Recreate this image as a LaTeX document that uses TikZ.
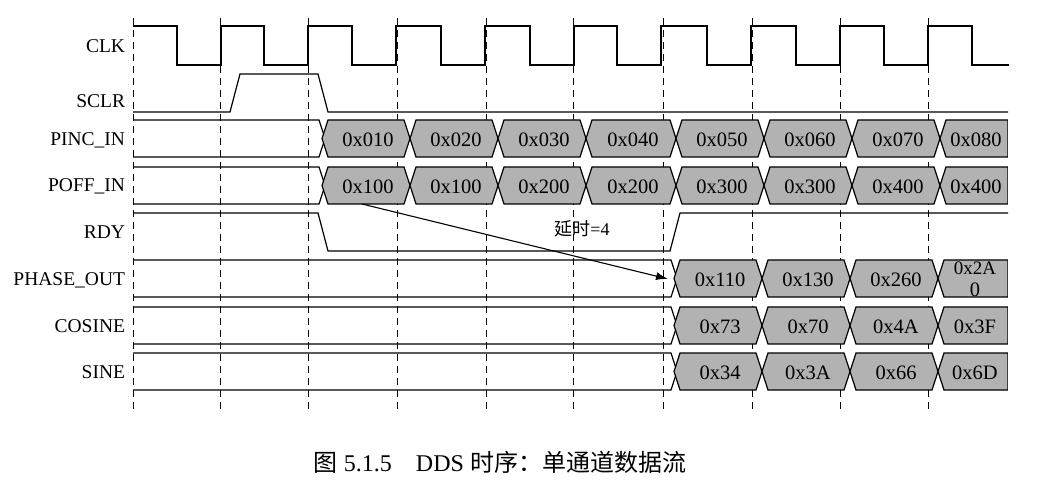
\documentclass[tikz,border=0pt]{standalone}
\usepackage{fontspec}
\usetikzlibrary{arrows.meta}
\setmainfont{Liberation Serif}
\newfontfamily\cjk{Noto Sans CJK SC}
\begin{document}
\begin{tikzpicture}[x=1pt,y=-1pt,line width=1.2pt,
  lbl/.style={anchor=east,font=\fontsize{19.5}{22}\selectfont},
  val/.style={font=\fontsize{20.5}{22}\selectfont},
  busfill/.style={fill=black!30},
  grid/.style={dashed,line width=0.9pt,dash pattern=on 7pt off 5pt}]
\useasboundingbox (0,0) rectangle (1063,494);
\fill[white] (0,0) rectangle (1063,494);
% dashed lines
\foreach \x in {133,220,308,397,486,573,663,752,840,928}
  \draw[grid] (\x,18) -- (\x,410);
% labels
\node[lbl] (lclk) at (129,46) {CLK};
\node[lbl] (lsclr) at (129,101) {SCLR};
\node[lbl] (lpinc) at (129,140) {PINC\_IN};
\node[lbl] (lpoff) at (129,186) {POFF\_IN};
\node[lbl] (lrdy) at (129,232) {RDY};
\node[lbl] (lph) at (129,280) {PHASE\_OUT};
\node[lbl] (lcos) at (129,326) {COSINE};
\node[lbl] (lsin) at (129,372) {SINE};
% clock
\draw (133,26) \foreach \x in {133,220,308,397,486,573,663,752,840,928} { -- (\x,26) -- ({\x+44},26) -- ({\x+44},65) -- ({\x+88},65) -- ({\x+88},26) } ;
\fill[white] (1009,20) rectangle (1030,70);
% SCLR
\draw (133,112) -- (230,112) -- (240,74) -- (318,74) -- (328,112) -- (1008,112);
% RDY
\draw (133,213) -- (318,213) -- (328,251) -- (670,251) -- (680,213) -- (1008,213);
% bus macro
\newcommand{\busrow}[5]{%
  \pgfmathsetmacro{\mid}{(#1+#2)/2}
  \draw (133,#1) -- ({#3-3},#1) -- ({#3+3},\mid) ;
  \draw (133,#2) -- ({#3-3},#2) -- ({#3+3},\mid) ;
  \foreach \a/\b/\v in {#4} {
    \pgfmathsetmacro{\e}{\b==1008 ? 0 : 6}
    \filldraw[busfill] (\a,\mid) -- ({\a+6},#1) -- ({\b-\e},#1) -- (\b,\mid) -- ({\b-\e},#2) -- ({\a+6},#2) -- cycle;
    \node[val,align=center] at ({(\a+\b)/2+2},{\mid+1}) {\v};
  }
  \draw[white,line width=2pt] (1009,{#1-2}) -- (1009,{#2+2});
}
\busrow{120}{157}{322}{322/410/0x010,410/498/0x020,498/586/0x030,586/676/0x040,676/764/0x050,764/852/0x060,852/940/0x070,940/1008/0x080}{}{}
\busrow{167}{204}{322}{322/410/0x100,410/498/0x100,498/586/0x200,586/676/0x200,676/764/0x300,764/852/0x300,852/940/0x400,940/1008/0x400}{}{}
\busrow{260}{297}{674}{674/762/0x110,762/850/0x130,850/938/0x260,938/1008/{\fontsize{19}{17}\selectfont 0x2A\\0}}{}{}
\busrow{307}{344}{674}{674/762/0x73,762/850/0x70,850/938/0x4A,938/1008/0x3F}{}{}
\busrow{353}{390}{674}{674/762/0x34,762/850/0x3A,850/938/0x66,938/1008/0x6D}{}{}
% delay arrow
\coordinate (src) at (362,204);
\coordinate (dst) at (668,279);
\draw[-{Latex[length=12pt,width=8pt]},line width=1.1pt] (src) -- (dst);
\node[font=\fontsize{18}{20}\selectfont] (dl) at (582,229) {{\cjk 延时}=4};
% caption
\node[font=\fontsize{24}{28}\selectfont] (cap) at (500,462) {{\cjk 图} 5.1.5\quad DDS {\cjk 时序：单通道数据流}};
\end{tikzpicture}
\end{document}
